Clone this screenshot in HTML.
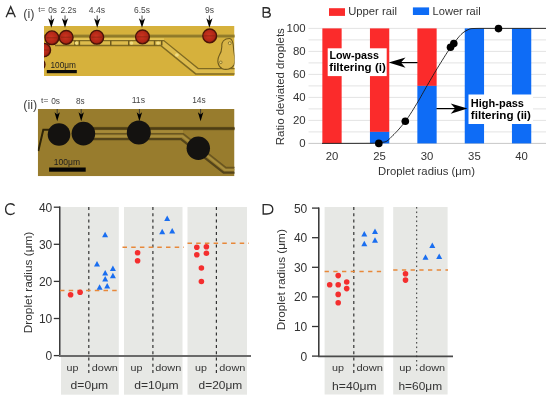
<!DOCTYPE html>
<html><head><meta charset="utf-8"><style>
html,body{margin:0;padding:0;background:#fff;width:550px;height:399px;overflow:hidden}
svg{display:block;will-change:transform}
text{font-family:"Liberation Sans",sans-serif}
</style></head><body>
<svg width="550" height="399" viewBox="0 0 550 399">
<path d="M6.1 17.3 L10.7 6.7 L15.3 17.3 M7.8 13.5 H13.6" fill="none" stroke="#2a2a2a" stroke-width="1.35"/>
<text x="23.2" y="17.6" font-size="12" fill="#444" textLength="11.3" lengthAdjust="spacingAndGlyphs" >(i)</text>
<text x="23.2" y="108.6" font-size="12.5" fill="#444" textLength="14" lengthAdjust="spacingAndGlyphs" >(ii)</text>
<defs><radialGradient id="dr" cx="0.45" cy="0.45" r="0.6"><stop offset="0" stop-color="#cc3420"/><stop offset="0.7" stop-color="#ae2616"/><stop offset="1" stop-color="#581408"/></radialGradient><clipPath id="c1"><rect x="44" y="26" width="190.5" height="50"/></clipPath><clipPath id="c2"><rect x="37.8" y="108.9" width="196.7" height="67.3"/></clipPath></defs>
<g clip-path="url(#c1)">
<rect x="44" y="26" width="190.5" height="50" fill="#d6b13c"/>
<rect x="44" y="34.5" width="191" height="3.2" fill="#a08a32"/>
<rect x="44" y="35.4" width="191" height="1.4" fill="#8c7628"/>
<rect x="55" y="38.3" width="109" height="1.6" fill="#e6c85a"/>
<path d="M55 40.3 H163.8 L198.2 68.2 H235 V73.9 H195.7 L160.6 45.7 H55 Z" fill="#ddbb4c"/>
<path d="M55 40.6 H163.8 L198.2 68.6 H235" fill="none" stroke="#7f6a22" stroke-width="1.3"/>
<path d="M55 45.5 H160.6 L195.7 73.9 H235" fill="none" stroke="#7f6a22" stroke-width="1.5"/>
<rect x="74.2" y="40.6" width="1.5" height="4.9" fill="#6e5a1c"/>
<rect x="78.6" y="40.6" width="1.5" height="4.9" fill="#6e5a1c"/>
<rect x="110" y="40.6" width="1.5" height="4.9" fill="#6e5a1c"/>
<rect x="128" y="40.6" width="1.5" height="4.9" fill="#6e5a1c"/>
<rect x="153.8" y="40.6" width="1.5" height="4.9" fill="#6e5a1c"/>
<rect x="161" y="40.6" width="1.5" height="4.9" fill="#6e5a1c"/>
<ellipse cx="76.5" cy="43.1" rx="1.9" ry="1.7" fill="#f0dc80"/>
<ellipse cx="131.5" cy="43.1" rx="1.9" ry="1.7" fill="#f0dc80"/>
<ellipse cx="158.1" cy="43.1" rx="1.9" ry="1.7" fill="#f0dc80"/>
<ellipse cx="176.9" cy="55" rx="1.9" ry="1.7" fill="#f0dc80"/>
<path d="M229.5 38.5 C224 38.5 221.5 42 221.8 46 C222 50 221 53 219 56 C217 60 217.5 66 222 68.5 C226 70.5 232 69 234 65 C235.5 61 234.5 55 233.8 51 C233.3 47 233.5 43 232 40.5 C231.3 39.2 230.5 38.5 229.5 38.5 Z" fill="#d9b548" stroke="#6e5a1c" stroke-width="1.1"/>
<circle cx="229.8" cy="43.2" r="1.5" fill="#ecd778" stroke="#6e5a1c" stroke-width="0.7"/>
<circle cx="220.8" cy="62.3" r="1.3" fill="#ecd778" stroke="#6e5a1c" stroke-width="0.7"/>
<circle cx="51.9" cy="37.8" r="6.9" fill="url(#dr)" stroke="#4a1408" stroke-width="1.3"/>
<rect x="46.5" y="37.0" width="10.8" height="1.4" fill="#8a2410" opacity="0.55"/>
<circle cx="66.2" cy="37.4" r="6.9" fill="url(#dr)" stroke="#4a1408" stroke-width="1.3"/>
<rect x="60.800000000000004" y="36.6" width="10.8" height="1.4" fill="#8a2410" opacity="0.55"/>
<circle cx="96.8" cy="37.3" r="6.9" fill="url(#dr)" stroke="#4a1408" stroke-width="1.3"/>
<rect x="91.39999999999999" y="36.5" width="10.8" height="1.4" fill="#8a2410" opacity="0.55"/>
<circle cx="142.5" cy="36.9" r="6.9" fill="url(#dr)" stroke="#4a1408" stroke-width="1.3"/>
<rect x="137.1" y="36.1" width="10.8" height="1.4" fill="#8a2410" opacity="0.55"/>
<circle cx="209.7" cy="35.9" r="6.9" fill="url(#dr)" stroke="#4a1408" stroke-width="1.3"/>
<rect x="204.29999999999998" y="35.1" width="10.8" height="1.4" fill="#8a2410" opacity="0.55"/>
<circle cx="43.8" cy="50.1" r="6.8" fill="url(#dr)" stroke="#4a1408" stroke-width="1.3"/>
<rect x="38.5" y="49.300000000000004" width="10.6" height="1.4" fill="#8a2410" opacity="0.55"/>
<circle cx="39.5" cy="64.5" r="5.5" fill="url(#dr)" stroke="#4a1408" stroke-width="1.3"/>
<rect x="35.5" y="63.7" width="8.0" height="1.4" fill="#8a2410" opacity="0.55"/>
<rect x="46.8" y="70" width="30" height="3.2" fill="#0a0a0a"/>
</g>
<text x="50.5" y="67.5" font-size="8.5" fill="#1e1e1e" textLength="25.5" lengthAdjust="spacingAndGlyphs" >100μm</text>
<line x1="51.3" y1="15.5" x2="51.3" y2="21.2" stroke="#333" stroke-width="0.9"/>
<path d="M48.199999999999996 18.2 L51.3 20.7 L54.4 18.2 L51.3 27.7 Z" fill="#000"/>
<line x1="65" y1="15.5" x2="65" y2="21.2" stroke="#333" stroke-width="0.9"/>
<path d="M61.9 18.2 L65 20.7 L68.1 18.2 L65 27.7 Z" fill="#000"/>
<line x1="97.2" y1="15.5" x2="97.2" y2="21.2" stroke="#333" stroke-width="0.9"/>
<path d="M94.10000000000001 18.2 L97.2 20.7 L100.3 18.2 L97.2 27.7 Z" fill="#000"/>
<line x1="142" y1="15.5" x2="142" y2="21.2" stroke="#333" stroke-width="0.9"/>
<path d="M138.9 18.2 L142 20.7 L145.1 18.2 L142 27.7 Z" fill="#000"/>
<line x1="209.4" y1="15.5" x2="209.4" y2="21.2" stroke="#333" stroke-width="0.9"/>
<path d="M206.3 18.2 L209.4 20.7 L212.5 18.2 L209.4 27.7 Z" fill="#000"/>
<text x="38.2" y="11.9" font-size="6.5" fill="#444" textLength="7" lengthAdjust="spacingAndGlyphs" >t=</text>
<text x="48.2" y="13.4" font-size="9" fill="#444" textLength="8.8" lengthAdjust="spacingAndGlyphs" >0s</text>
<text x="60.4" y="13.4" font-size="9" fill="#444" textLength="16" lengthAdjust="spacingAndGlyphs" >2.2s</text>
<text x="88.7" y="13.4" font-size="9" fill="#444" textLength="16.3" lengthAdjust="spacingAndGlyphs" >4.4s</text>
<text x="134" y="13.4" font-size="9" fill="#444" textLength="16" lengthAdjust="spacingAndGlyphs" >6.5s</text>
<text x="205" y="13.4" font-size="9" fill="#444" textLength="9" lengthAdjust="spacingAndGlyphs" >9s</text>
<g clip-path="url(#c2)">
<rect x="37.8" y="108.9" width="196.7" height="67.3" fill="#987c2d"/>
<rect x="90" y="126.9" width="145" height="3.3" fill="#5e4c1a"/>
<rect x="90" y="127.8" width="145" height="1.4" fill="#4e3e14"/>
<rect x="90" y="130.2" width="93" height="2.6" fill="#a68a38"/>
<path d="M90 133.8 H183.3 L226 167.6 H235" fill="none" stroke="#6a5620" stroke-width="1.6"/>
<path d="M90 136.2 H182.5 L225 169.8 H235" fill="none" stroke="#a88e3e" stroke-width="1.8"/>
<path d="M90 139.2 H181 L223.6 172.6 H235" fill="none" stroke="#54441a" stroke-width="2.2"/>
<path d="M38.3 151 L43.3 129.8 H50" fill="none" stroke="#2e2408" stroke-width="2"/>
<circle cx="59" cy="134.5" r="11.3" fill="#141210"/>
<circle cx="83.4" cy="133.6" r="11.8" fill="#141210"/>
<circle cx="138.8" cy="132.5" r="12" fill="#141210"/>
<circle cx="198.3" cy="148.2" r="11.7" fill="#141210"/>
<rect x="49.1" y="167.5" width="36.6" height="4.2" fill="#050505"/>
</g>
<text x="53.8" y="165" font-size="8.5" fill="#1e1e1e" textLength="26.2" lengthAdjust="spacingAndGlyphs" >100μm</text>
<line x1="57.2" y1="109" x2="57.2" y2="115.0" stroke="#333" stroke-width="0.9"/>
<path d="M54.5 112.3 L57.2 114.5 L59.900000000000006 112.3 L57.2 121.3 Z" fill="#000"/>
<line x1="81.2" y1="109" x2="81.2" y2="115.0" stroke="#333" stroke-width="0.9"/>
<path d="M78.5 112.3 L81.2 114.5 L83.9 112.3 L81.2 121.3 Z" fill="#000"/>
<line x1="139.4" y1="109" x2="139.4" y2="115.0" stroke="#333" stroke-width="0.9"/>
<path d="M136.70000000000002 112.3 L139.4 114.5 L142.1 112.3 L139.4 121.3 Z" fill="#000"/>
<line x1="200.6" y1="109" x2="200.6" y2="115.0" stroke="#333" stroke-width="0.9"/>
<path d="M197.9 112.3 L200.6 114.5 L203.29999999999998 112.3 L200.6 121.3 Z" fill="#000"/>
<text x="41.1" y="103.3" font-size="7.5" fill="#444" textLength="7.2" lengthAdjust="spacingAndGlyphs" >t=</text>
<text x="51.2" y="103.8" font-size="9" fill="#444" textLength="8.8" lengthAdjust="spacingAndGlyphs" >0s</text>
<text x="76" y="103.8" font-size="9" fill="#444" textLength="8.7" lengthAdjust="spacingAndGlyphs" >8s</text>
<text x="131.7" y="103.3" font-size="9" fill="#444" textLength="13.3" lengthAdjust="spacingAndGlyphs" >11s</text>
<text x="192.2" y="103.3" font-size="9" fill="#444" textLength="13.5" lengthAdjust="spacingAndGlyphs" >14s</text>
<path d="M263.2 17.1 V7.7 H266.6 C268.6 7.7 269.6 8.8 269.6 10.1 C269.6 11.5 268.6 12.3 266.6 12.3 H263.2 M266.6 12.3 C269 12.3 270.3 13.3 270.3 14.7 C270.3 16.2 269 17.1 266.8 17.1 H263.2" fill="none" stroke="#2a2a2a" stroke-width="1.35"/>
<rect x="329" y="8.2" width="16" height="7.7" fill="#fb2b2b"/>
<rect x="412.9" y="7.4" width="16.2" height="7.6" fill="#0e6cf6"/>
<text x="348.2" y="14.8" font-size="10.5" fill="#333" textLength="48.8" lengthAdjust="spacingAndGlyphs" >Upper rail</text>
<text x="432.6" y="15" font-size="10.5" fill="#333" textLength="48.1" lengthAdjust="spacingAndGlyphs" >Lower rail</text>
<line x1="308.5" y1="131.90" x2="546" y2="131.90" stroke="#e3e3e3" stroke-width="1"/>
<line x1="308.5" y1="120.40" x2="546" y2="120.40" stroke="#e3e3e3" stroke-width="1"/>
<line x1="308.5" y1="108.90" x2="546" y2="108.90" stroke="#e3e3e3" stroke-width="1"/>
<line x1="308.5" y1="97.40" x2="546" y2="97.40" stroke="#e3e3e3" stroke-width="1"/>
<line x1="308.5" y1="85.90" x2="546" y2="85.90" stroke="#e3e3e3" stroke-width="1"/>
<line x1="308.5" y1="74.40" x2="546" y2="74.40" stroke="#e3e3e3" stroke-width="1"/>
<line x1="308.5" y1="62.90" x2="546" y2="62.90" stroke="#e3e3e3" stroke-width="1"/>
<line x1="308.5" y1="51.40" x2="546" y2="51.40" stroke="#e3e3e3" stroke-width="1"/>
<line x1="308.5" y1="39.90" x2="546" y2="39.90" stroke="#e3e3e3" stroke-width="1"/>
<line x1="308.5" y1="28.40" x2="546" y2="28.40" stroke="#e3e3e3" stroke-width="1"/>
<line x1="308.5" y1="143.40" x2="546" y2="143.40" stroke="#c8c8c8" stroke-width="1"/>
<rect x="322.35" y="28.40" width="19.3" height="115.00" fill="#fb2b2b"/>
<rect x="369.95" y="28.40" width="19.3" height="103.50" fill="#fb2b2b"/>
<rect x="369.95" y="131.90" width="19.3" height="11.50" fill="#0e6cf6"/>
<rect x="417.35" y="28.40" width="19.3" height="57.50" fill="#fb2b2b"/>
<rect x="417.35" y="85.90" width="19.3" height="57.50" fill="#0e6cf6"/>
<rect x="464.75" y="28.40" width="19.3" height="115.00" fill="#0e6cf6"/>
<rect x="511.95" y="28.40" width="19.3" height="115.00" fill="#0e6cf6"/>
<text x="305.6" y="147.00" font-size="11.4" fill="#333" text-anchor="end" >0</text>
<text x="305.6" y="124.00" font-size="11.4" fill="#333" text-anchor="end" >20</text>
<text x="305.6" y="101.00" font-size="11.4" fill="#333" text-anchor="end" >40</text>
<text x="305.6" y="78.00" font-size="11.4" fill="#333" text-anchor="end" >60</text>
<text x="305.6" y="55.00" font-size="11.4" fill="#333" text-anchor="end" >80</text>
<text x="305.6" y="32.00" font-size="11.4" fill="#333" text-anchor="end" >100</text>
<text x="332" y="159.8" font-size="11.3" fill="#333" text-anchor="middle" >20</text>
<text x="379.6" y="159.8" font-size="11.3" fill="#333" text-anchor="middle" >25</text>
<text x="427" y="159.8" font-size="11.3" fill="#333" text-anchor="middle" >30</text>
<text x="474.4" y="159.8" font-size="11.3" fill="#333" text-anchor="middle" >35</text>
<text x="521.6" y="159.8" font-size="11.3" fill="#333" text-anchor="middle" >40</text>
<text x="378" y="175" font-size="11.2" fill="#333" textLength="97" lengthAdjust="spacingAndGlyphs" >Droplet radius (μm)</text>
<text x="0" y="0" font-size="10" fill="#333" textLength="117" lengthAdjust="spacingAndGlyphs" transform="translate(284.2 145.2) rotate(-90)">Ratio deviated droplets</text>
<path d="M322.0 143.40 L323.0 143.40 L324.0 143.40 L325.0 143.40 L326.0 143.40 L327.0 143.40 L328.0 143.40 L329.0 143.40 L330.0 143.40 L331.0 143.40 L332.0 143.40 L333.0 143.40 L334.0 143.40 L335.0 143.39 L336.0 143.39 L337.0 143.39 L338.0 143.39 L339.0 143.39 L340.0 143.39 L341.0 143.39 L342.0 143.39 L343.0 143.38 L344.0 143.38 L345.0 143.38 L346.0 143.38 L347.0 143.38 L348.0 143.38 L349.0 143.37 L350.0 143.37 L351.0 143.37 L352.0 143.37 L353.0 143.36 L354.0 143.36 L355.0 143.36 L356.0 143.35 L357.0 143.35 L358.0 143.35 L359.0 143.35 L360.0 143.34 L361.0 143.34 L362.0 143.33 L363.0 143.33 L364.0 143.33 L365.0 143.32 L366.0 143.32 L367.0 143.31 L368.0 143.31 L369.0 143.30 L370.0 143.30 L371.0 143.29 L372.0 143.27 L373.0 143.23 L374.0 143.19 L375.0 143.13 L376.0 143.06 L377.0 142.98 L378.0 142.88 L379.0 142.78 L380.0 142.66 L381.0 142.53 L382.0 142.39 L383.0 142.24 L384.0 142.08 L385.0 141.90 L386.0 141.58 L387.0 141.03 L388.0 140.28 L389.0 139.39 L390.0 138.40 L391.0 137.36 L392.0 136.30 L393.0 135.29 L394.0 134.33 L395.0 133.33 L396.0 132.31 L397.0 131.25 L398.0 130.16 L399.0 129.05 L400.0 127.90 L401.0 126.72 L402.0 125.51 L403.0 124.28 L404.0 123.01 L405.0 121.72 L406.0 120.40 L407.0 119.02 L408.0 117.59 L409.0 116.11 L410.0 114.59 L411.0 113.03 L412.0 111.44 L413.0 109.83 L414.0 108.20 L415.0 106.56 L416.0 104.91 L417.0 103.26 L418.0 101.60 L419.0 99.91 L420.0 98.18 L421.0 96.42 L422.0 94.64 L423.0 92.86 L424.0 91.07 L425.0 89.29 L426.0 87.53 L427.0 85.80 L428.0 84.08 L429.0 82.36 L430.0 80.64 L431.0 78.92 L432.0 77.21 L433.0 75.50 L434.0 73.81 L435.0 72.12 L436.0 70.44 L437.0 68.78 L438.0 67.14 L439.0 65.51 L440.0 63.90 L441.0 62.30 L442.0 60.69 L443.0 59.07 L444.0 57.47 L445.0 55.87 L446.0 54.30 L447.0 52.75 L448.0 51.23 L449.0 49.76 L450.0 48.32 L451.0 46.95 L452.0 45.63 L453.0 44.34 L454.0 43.03 L455.0 41.73 L456.0 40.43 L457.0 39.16 L458.0 37.92 L459.0 36.74 L460.0 35.62 L461.0 34.57 L462.0 33.61 L463.0 32.75 L464.0 32.00 L465.0 31.38 L466.0 30.81 L467.0 30.25 L468.0 29.73 L469.0 29.28 L470.0 28.93 L471.0 28.69 L472.0 28.59 L473.0 28.55 L474.0 28.51 L475.0 28.48 L476.0 28.45 L477.0 28.43 L478.0 28.41 L479.0 28.40 L480.0 28.40 L481.0 28.40 L482.0 28.40 L483.0 28.40 L484.0 28.40 L485.0 28.40 L486.0 28.40 L487.0 28.40 L488.0 28.40 L489.0 28.40 L490.0 28.40 L491.0 28.40 L492.0 28.40 L493.0 28.40 L494.0 28.40 L495.0 28.40 L496.0 28.40 L497.0 28.40 L498.0 28.40 L499.0 28.40 L500.0 28.40 L501.0 28.40 L502.0 28.40 L503.0 28.40 L504.0 28.40 L505.0 28.40 L506.0 28.40 L507.0 28.40 L508.0 28.40 L509.0 28.40 L510.0 28.40 L511.0 28.40 L512.0 28.40 L513.0 28.40 L514.0 28.40 L515.0 28.40 L516.0 28.40 L517.0 28.40 L518.0 28.40 L519.0 28.40 L520.0 28.40 L521.0 28.40 L522.0 28.40 L523.0 28.40 L524.0 28.40 L525.0 28.40 L526.0 28.40 L527.0 28.40 L528.0 28.40 L529.0 28.40 L530.0 28.40 L531.0 28.40 L532.0 28.40 L533.0 28.40 L534.0 28.40 L535.0 28.40 L536.0 28.40 L537.0 28.40 L538.0 28.40 L539.0 28.40 L540.0 28.40 L541.0 28.40 L542.0 28.40 L543.0 28.40 L544.0 28.40 L545.0 28.40 L546.0 28.40" fill="none" stroke="#1a1a1a" stroke-width="0.9"/>
<circle cx="378.8" cy="143.4" r="3.8" fill="#000"/>
<circle cx="405.3" cy="121.2" r="3.8" fill="#000"/>
<circle cx="450.5" cy="47.3" r="3.8" fill="#000"/>
<circle cx="453.8" cy="43.6" r="3.8" fill="#000"/>
<circle cx="498.5" cy="28.6" r="3.8" fill="#000"/>
<rect x="327.7" y="48.3" width="59" height="27.8" fill="#fff"/>
<text x="329.5" y="59.3" font-size="10" fill="#000" font-weight="bold" textLength="49.5" lengthAdjust="spacingAndGlyphs" >Low-pass</text>
<text x="329.3" y="70.8" font-size="10" fill="#000" font-weight="bold" textLength="56.5" lengthAdjust="spacingAndGlyphs" >filtering (i)</text>
<rect x="468.5" y="94.5" width="64.5" height="29.5" fill="#fff"/>
<text x="470.8" y="106.6" font-size="10" fill="#000" font-weight="bold" textLength="53.2" lengthAdjust="spacingAndGlyphs" >High-pass</text>
<text x="470.8" y="118.6" font-size="10" fill="#000" font-weight="bold" textLength="60.2" lengthAdjust="spacingAndGlyphs" >filtering (ii)</text>
<line x1="417.5" y1="62.6" x2="400.46" y2="62.6" stroke="#000" stroke-width="1.2"/>
<path d="M388.7 62.6 L405.5 57.4 L400.964 62.6 L405.5 67.8 Z" fill="#000"/>
<line x1="436.5" y1="108.6" x2="455.74" y2="108.6" stroke="#000" stroke-width="1.2"/>
<path d="M467.5 108.6 L450.7 103.39999999999999 L455.236 108.6 L450.7 113.8 Z" fill="#000"/>
<path d="M14.6 205.6 C13.6 204.3 12.2 203.7 10.6 203.7 C7.6 203.7 5.6 206 5.6 209.1 C5.6 212.3 7.6 214.5 10.6 214.5 C12.2 214.5 13.6 213.9 14.6 212.6" fill="none" stroke="#2a2a2a" stroke-width="1.35"/>
<rect x="61" y="207" width="57.8" height="187.7" fill="#e7e8e5"/>
<rect x="124" y="207" width="58.5" height="187.7" fill="#e7e8e5"/>
<rect x="187.5" y="207" width="59.5" height="187.7" fill="#e7e8e5"/>
<line x1="53.8" y1="355.60" x2="60" y2="355.60" stroke="#333" stroke-width="1.3"/>
<text x="52.3" y="360.00" font-size="12" fill="#333" text-anchor="end" >0</text>
<line x1="53.8" y1="318.50" x2="60" y2="318.50" stroke="#333" stroke-width="1.3"/>
<text x="52.3" y="322.90" font-size="12" fill="#333" text-anchor="end" >10</text>
<line x1="53.8" y1="281.40" x2="60" y2="281.40" stroke="#333" stroke-width="1.3"/>
<text x="52.3" y="285.80" font-size="12" fill="#333" text-anchor="end" >20</text>
<line x1="53.8" y1="244.30" x2="60" y2="244.30" stroke="#333" stroke-width="1.3"/>
<text x="52.3" y="248.70" font-size="12" fill="#333" text-anchor="end" >30</text>
<line x1="53.8" y1="207.20" x2="60" y2="207.20" stroke="#333" stroke-width="1.3"/>
<text x="52.3" y="211.60" font-size="12" fill="#333" text-anchor="end" >40</text>
<line x1="59.8" y1="206.60" x2="59.8" y2="356.6" stroke="#333" stroke-width="1.5"/>
<line x1="59" y1="355.9" x2="251" y2="355.9" stroke="#6a6a6a" stroke-width="2"/>
<line x1="88.8" y1="207" x2="88.8" y2="374.5" stroke="#333" stroke-width="1.2" stroke-dasharray="3 3.27"/>
<line x1="152.9" y1="207" x2="152.9" y2="374.5" stroke="#333" stroke-width="1.2" stroke-dasharray="3 3.27"/>
<line x1="216.4" y1="207" x2="216.4" y2="374.5" stroke="#333" stroke-width="1.2" stroke-dasharray="3 3.27"/>
<line x1="60" y1="290.4" x2="118.5" y2="290.4" stroke="#e8883a" stroke-width="1.5" stroke-dasharray="4.5 4.2"/>
<line x1="122.5" y1="247.2" x2="184" y2="247.2" stroke="#e8883a" stroke-width="1.5" stroke-dasharray="4.5 4.2"/>
<line x1="187.5" y1="243.2" x2="249" y2="243.2" stroke="#e8883a" stroke-width="1.5" stroke-dasharray="4.5 4.2"/>
<circle cx="70.6" cy="294.8" r="2.8" fill="#f42e2e"/>
<circle cx="80.1" cy="292.3" r="2.8" fill="#f42e2e"/>
<circle cx="137.6" cy="252.7" r="2.8" fill="#f42e2e"/>
<circle cx="137.6" cy="260.7" r="2.8" fill="#f42e2e"/>
<circle cx="196.8" cy="247.2" r="2.8" fill="#f42e2e"/>
<circle cx="206.4" cy="246.7" r="2.8" fill="#f42e2e"/>
<circle cx="196.8" cy="254.7" r="2.8" fill="#f42e2e"/>
<circle cx="206.4" cy="253.2" r="2.8" fill="#f42e2e"/>
<circle cx="201.4" cy="268" r="2.8" fill="#f42e2e"/>
<circle cx="201.4" cy="281.5" r="2.8" fill="#f42e2e"/>
<path d="M105.1 231.70 L108.10 237.20 L102.10 237.20 Z" fill="#1a6ef0"/>
<path d="M97 260.90 L100.00 266.40 L94.00 266.40 Z" fill="#1a6ef0"/>
<path d="M112.9 265.50 L115.90 271.00 L109.90 271.00 Z" fill="#1a6ef0"/>
<path d="M105.2 269.90 L108.20 275.40 L102.20 275.40 Z" fill="#1a6ef0"/>
<path d="M112.9 272.70 L115.90 278.20 L109.90 278.20 Z" fill="#1a6ef0"/>
<path d="M105.2 275.90 L108.20 281.40 L102.20 281.40 Z" fill="#1a6ef0"/>
<path d="M107.2 282.90 L110.20 288.40 L104.20 288.40 Z" fill="#1a6ef0"/>
<path d="M99.6 284.20 L102.60 289.70 L96.60 289.70 Z" fill="#1a6ef0"/>
<path d="M167.2 215.50 L170.20 221.00 L164.20 221.00 Z" fill="#1a6ef0"/>
<path d="M162.2 228.80 L165.20 234.30 L159.20 234.30 Z" fill="#1a6ef0"/>
<path d="M172.2 228.10 L175.20 233.60 L169.20 233.60 Z" fill="#1a6ef0"/>
<text x="66.6" y="370.6" font-size="9.8" fill="#333" textLength="11.9" lengthAdjust="spacingAndGlyphs" >up</text>
<text x="130.5" y="370.6" font-size="9.8" fill="#333" textLength="11.9" lengthAdjust="spacingAndGlyphs" >up</text>
<text x="195" y="370.6" font-size="9.8" fill="#333" textLength="11.9" lengthAdjust="spacingAndGlyphs" >up</text>
<text x="91.8" y="370.6" font-size="9.8" fill="#333" textLength="26" lengthAdjust="spacingAndGlyphs" >down</text>
<text x="155.2" y="370.6" font-size="9.8" fill="#333" textLength="26" lengthAdjust="spacingAndGlyphs" >down</text>
<text x="219.3" y="370.6" font-size="9.8" fill="#333" textLength="26" lengthAdjust="spacingAndGlyphs" >down</text>
<text x="70.6" y="389.4" font-size="10.8" fill="#333" textLength="37.6" lengthAdjust="spacingAndGlyphs" >d=0μm</text>
<text x="134.2" y="389.4" font-size="10.8" fill="#333" textLength="44.4" lengthAdjust="spacingAndGlyphs" >d=10μm</text>
<text x="198.6" y="389.4" font-size="10.8" fill="#333" textLength="43.7" lengthAdjust="spacingAndGlyphs" >d=20μm</text>
<text x="0" y="0" font-size="11" fill="#333" textLength="101.5" lengthAdjust="spacingAndGlyphs" transform="translate(32.4 333.2) rotate(-90)">Droplet radius (μm)</text>
<path d="M263.2 214 V204.6 H266.8 C270.4 204.6 272.8 206.4 272.8 209.3 C272.8 212.2 270.4 214 266.8 214 Z" fill="none" stroke="#2a2a2a" stroke-width="1.35"/>
<rect x="324.6" y="207" width="59.099999999999966" height="187.5" fill="#e7e8e5"/>
<rect x="393.2" y="207" width="54.400000000000034" height="187.5" fill="#e7e8e5"/>
<line x1="312" y1="356.10" x2="319" y2="356.10" stroke="#333" stroke-width="1.3"/>
<text x="307.3" y="360.50" font-size="12" fill="#333" text-anchor="end" >0</text>
<line x1="312" y1="326.50" x2="319" y2="326.50" stroke="#333" stroke-width="1.3"/>
<text x="307.3" y="330.90" font-size="12" fill="#333" text-anchor="end" >10</text>
<line x1="312" y1="296.90" x2="319" y2="296.90" stroke="#333" stroke-width="1.3"/>
<text x="307.3" y="301.30" font-size="12" fill="#333" text-anchor="end" >20</text>
<line x1="312" y1="267.30" x2="319" y2="267.30" stroke="#333" stroke-width="1.3"/>
<text x="307.3" y="271.70" font-size="12" fill="#333" text-anchor="end" >30</text>
<line x1="312" y1="237.70" x2="319" y2="237.70" stroke="#333" stroke-width="1.3"/>
<text x="307.3" y="242.10" font-size="12" fill="#333" text-anchor="end" >40</text>
<line x1="312" y1="208.10" x2="319" y2="208.10" stroke="#333" stroke-width="1.3"/>
<text x="307.3" y="212.50" font-size="12" fill="#333" text-anchor="end" >50</text>
<line x1="318.8" y1="207.50" x2="318.8" y2="356.6" stroke="#333" stroke-width="1.5"/>
<line x1="318" y1="356.4" x2="453" y2="356.4" stroke="#4a4a4a" stroke-width="1.9"/>
<line x1="353.8" y1="207" x2="353.8" y2="374.5" stroke="#333" stroke-width="1.2" stroke-dasharray="3 3.27"/>
<line x1="416.7" y1="207" x2="416.7" y2="372" stroke="#333" stroke-width="1" stroke-dasharray="1.6 2.9"/>
<line x1="324.6" y1="271.4" x2="384" y2="271.4" stroke="#e8883a" stroke-width="1.5" stroke-dasharray="4.3 4.4"/>
<line x1="393.2" y1="270" x2="448" y2="270" stroke="#e8883a" stroke-width="1.5" stroke-dasharray="4.3 4.4"/>
<circle cx="338.2" cy="275.6" r="2.8" fill="#f42e2e"/>
<circle cx="329.7" cy="284.8" r="2.8" fill="#f42e2e"/>
<circle cx="338.2" cy="284.8" r="2.8" fill="#f42e2e"/>
<circle cx="346.7" cy="282" r="2.8" fill="#f42e2e"/>
<circle cx="346.7" cy="288.6" r="2.8" fill="#f42e2e"/>
<circle cx="338.2" cy="294.4" r="2.8" fill="#f42e2e"/>
<circle cx="338.2" cy="302.7" r="2.8" fill="#f42e2e"/>
<circle cx="405.5" cy="273.8" r="2.8" fill="#f42e2e"/>
<circle cx="405.5" cy="280.1" r="2.8" fill="#f42e2e"/>
<path d="M364.3 231.10 L367.30 236.60 L361.30 236.60 Z" fill="#1a6ef0"/>
<path d="M375 228.50 L378.00 234.00 L372.00 234.00 Z" fill="#1a6ef0"/>
<path d="M364.3 240.80 L367.30 246.30 L361.30 246.30 Z" fill="#1a6ef0"/>
<path d="M375 237.20 L378.00 242.70 L372.00 242.70 Z" fill="#1a6ef0"/>
<path d="M432.3 242.50 L435.30 248.00 L429.30 248.00 Z" fill="#1a6ef0"/>
<path d="M425.5 254.30 L428.50 259.80 L422.50 259.80 Z" fill="#1a6ef0"/>
<path d="M439.2 253.50 L442.20 259.00 L436.20 259.00 Z" fill="#1a6ef0"/>
<text x="332" y="370.6" font-size="9.8" fill="#333" textLength="12" lengthAdjust="spacingAndGlyphs" >up</text>
<text x="399.2" y="370.6" font-size="9.8" fill="#333" textLength="12.2" lengthAdjust="spacingAndGlyphs" >up</text>
<text x="356.4" y="370.6" font-size="9.8" fill="#333" textLength="26.6" lengthAdjust="spacingAndGlyphs" >down</text>
<text x="419.2" y="370.6" font-size="9.8" fill="#333" textLength="25.9" lengthAdjust="spacingAndGlyphs" >down</text>
<text x="332" y="389.5" font-size="10.8" fill="#333" textLength="44.7" lengthAdjust="spacingAndGlyphs" >h=40μm</text>
<text x="398.5" y="389.5" font-size="10.8" fill="#333" textLength="43.6" lengthAdjust="spacingAndGlyphs" >h=60μm</text>
<text x="0" y="0" font-size="11" fill="#333" textLength="101" lengthAdjust="spacingAndGlyphs" transform="translate(284.8 330.2) rotate(-90)">Droplet radius (μm)</text>
</svg>
</body></html>
